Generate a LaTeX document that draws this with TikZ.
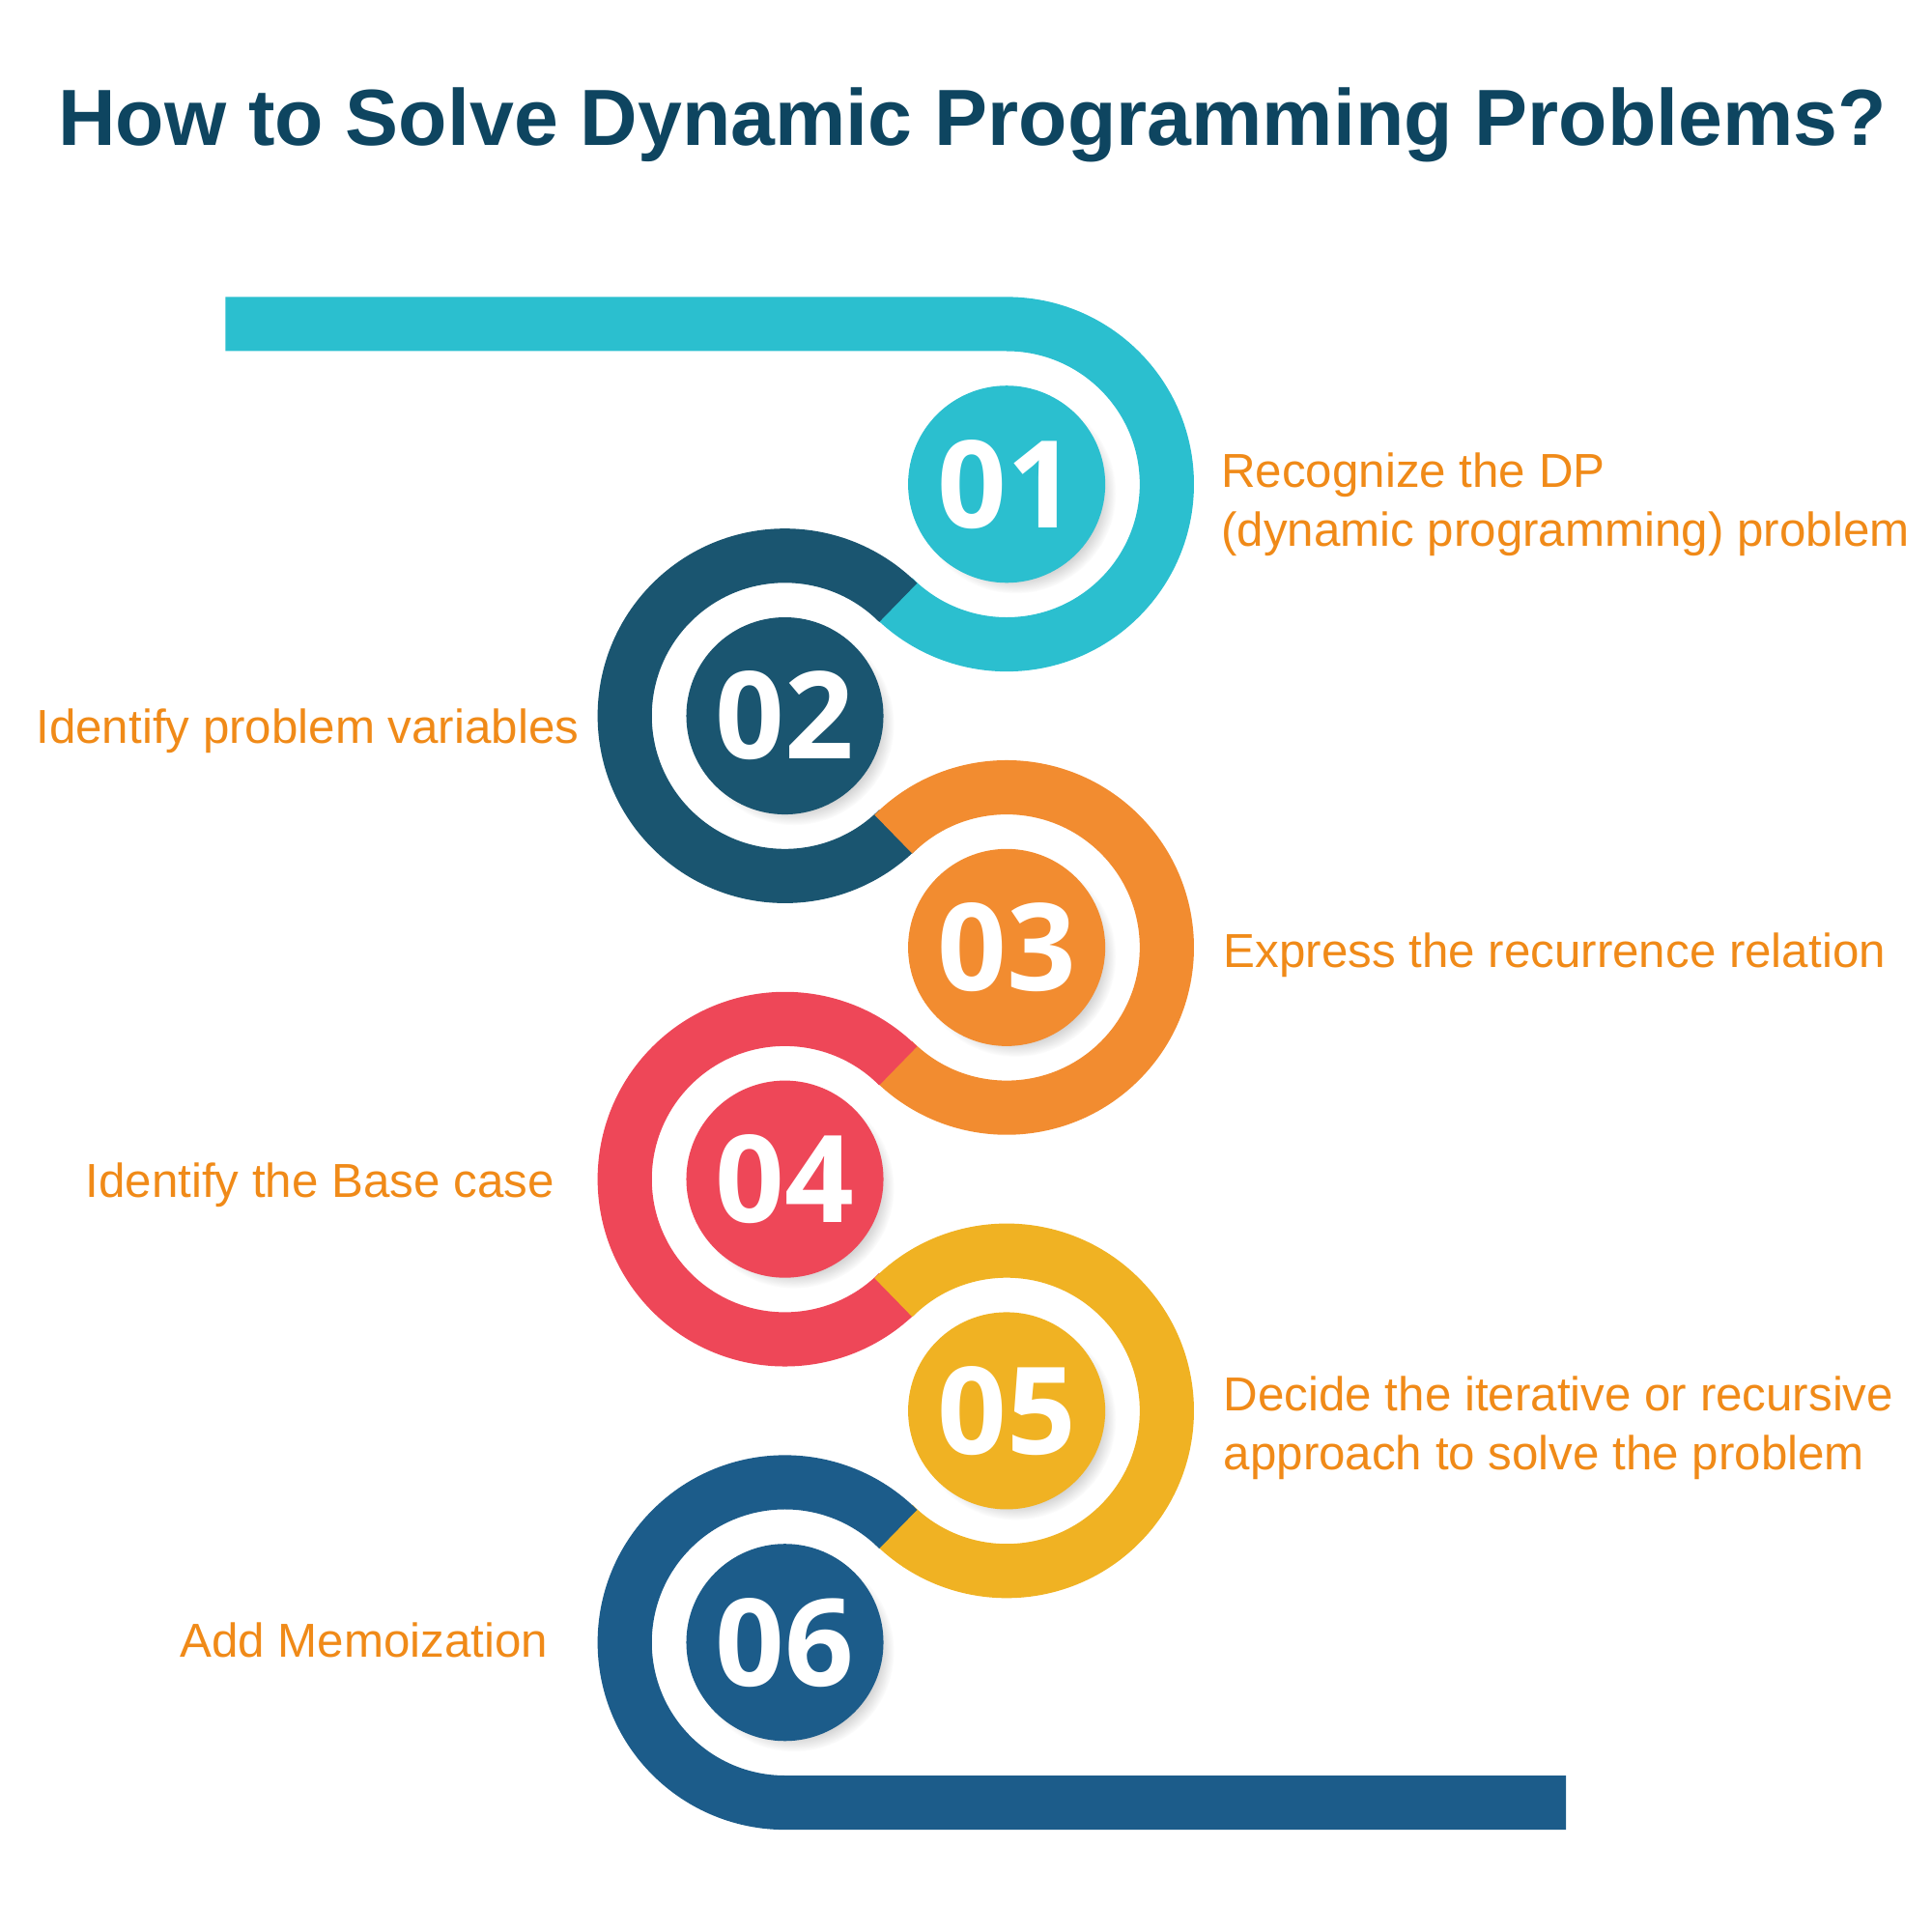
\documentclass[tikz,border=0pt]{standalone}
\usepackage{fontspec}
\setmainfont{Liberation Sans}
\newfontfamily\numfont{Open Sans}
\usetikzlibrary{shadows,calc}
\definecolor{cA}{HTML}{2BBFCF}
\definecolor{cB}{HTML}{1A5570}
\definecolor{cC}{HTML}{F28C30}
\definecolor{cD}{HTML}{EE4758}
\definecolor{cE}{HTML}{F0B223}
\definecolor{cF}{HTML}{1C5C8A}
\definecolor{txt}{HTML}{F08A18}
\definecolor{ttl}{HTML}{0E4560}
\tikzset{
  ring/.style={line width=2.2cm, line cap=butt},
  num/.style={circle, minimum size=8cm, inner sep=0pt, text=white,
    font=\numfont\bfseries\fontsize{140}{145}\selectfont,
    circular drop shadow={shadow xshift=0.35cm, shadow yshift=-0.35cm, opacity=0.35, shadow scale=1.02}},
  lab/.style={text=txt, font=\fontsize{55}{68}\selectfont, inner sep=0pt, align=left}
}
\begin{document}
\begin{tikzpicture}[x=0.05cm,y=0.05cm]
\useasboundingbox (0,0) rectangle (1568,1568);
\node[anchor=base west, inner sep=0pt, text=ttl, font=\bfseries\fontsize{92}{96}\selectfont] (title) at (47,1450) {How to Solve Dynamic Programming Problems?};
% rings
\draw[ring,cA] (183,1305) -- (817,1305) arc (90:-135:130);
\draw[ring,cB] ($(637,987)+(45:130)$) arc (45:315:130);
\draw[ring,cC] ($(817,799)+(135:130)$) arc (135:-135:130);
\draw[ring,cD] ($(637,611)+(45:130)$) arc (45:315:130);
\draw[ring,cE] ($(817,423)+(135:130)$) arc (135:-135:130);
\draw[ring,cF] ($(637,235)+(45:130)$) arc (45:270:130) -- (1271,105);
% numbers
\node[num,fill=cA] (n1) at (817,1175) {01};
\node[num,fill=cB] (n2) at (637,987) {02};
\node[num,fill=cC] (n3) at (817,799) {03};
\node[num,fill=cD] (n4) at (637,611) {04};
\node[num,fill=cE] (n5) at (817,423) {05};
\node[num,fill=cF] (n6) at (637,235) {06};
% labels
\node[lab,anchor=base west] (l1) at (991,1125) {Recognize the DP\\(dynamic programming) problem};
\node[lab,anchor=base east] (l2) at (470,965) {Identify problem variables};
\node[lab,anchor=base west] (l3) at (993,783) {Express the recurrence relation};
\node[lab,anchor=base east] (l4) at (450,596) {Identify the Base case};
\node[lab,anchor=base west] (l5) at (993,375) {Decide the iterative or recursive\\approach to solve the problem};
\node[lab,anchor=base east] (l6) at (445,223) {Add Memoization};
\end{tikzpicture}
\end{document}
